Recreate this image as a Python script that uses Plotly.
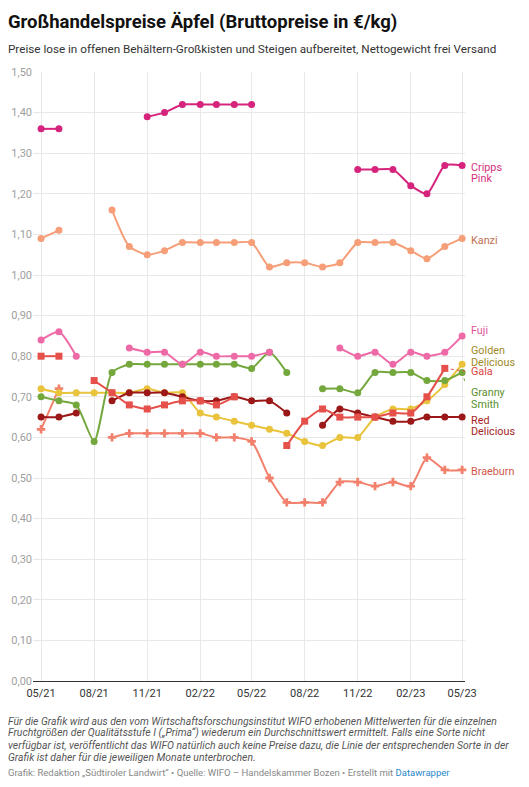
import plotly.graph_objects as go

# monthly observations 05/21 .. 05/23, None = variety not available that month
months = ["2021-05-01", "2021-06-01", "2021-07-01", "2021-08-01", "2021-09-01",
          "2021-10-01", "2021-11-01", "2021-12-01", "2022-01-01", "2022-02-01",
          "2022-03-01", "2022-04-01", "2022-05-01", "2022-06-01", "2022-07-01",
          "2022-08-01", "2022-09-01", "2022-10-01", "2022-11-01", "2022-12-01",
          "2023-01-01", "2023-02-01", "2023-03-01", "2023-04-01", "2023-05-01"]

cripps_pink = [1.36, 1.36, None, None, None, None, 1.39, 1.40, 1.42, 1.42, 1.42, 1.42, 1.42,
               None, None, None, None, None, 1.26, 1.26, 1.26, 1.22, 1.20, 1.27, 1.27]
kanzi = [1.09, 1.11, None, None, 1.16, 1.07, 1.05, 1.06, 1.08, 1.08, 1.08, 1.08, 1.08,
         1.02, 1.03, 1.03, 1.02, 1.03, 1.08, 1.08, 1.08, 1.06, 1.04, 1.07, 1.09]
fuji = [0.84, 0.86, 0.80, None, None, 0.82, 0.81, 0.81, 0.78, 0.81, 0.80, 0.80, 0.80,
        0.81, None, None, None, 0.82, 0.80, 0.81, 0.78, 0.81, 0.80, 0.81, 0.85]
golden_delicious = [0.72, 0.71, 0.71, 0.71, 0.71, 0.71, 0.72, 0.71, 0.71, 0.66, 0.65, 0.64, 0.63,
                    0.62, 0.61, 0.59, 0.58, 0.60, 0.60, 0.65, 0.67, 0.67, 0.69, 0.73, 0.78]
gala = [0.80, 0.80, None, 0.74, 0.71, 0.68, 0.67, 0.68, 0.69, 0.69, 0.68, 0.70, None,
        None, 0.58, 0.64, 0.67, 0.65, 0.65, 0.65, 0.66, 0.66, 0.70, 0.77, None]
granny_smith = [0.70, 0.69, 0.68, 0.59, 0.76, 0.78, 0.78, 0.78, 0.78, 0.78, 0.78, 0.78, 0.77,
                0.81, 0.76, None, 0.72, 0.72, 0.71, 0.76, 0.76, 0.76, 0.74, 0.74, 0.76]
red_delicious = [0.65, 0.65, 0.66, None, 0.69, 0.71, 0.71, 0.71, 0.70, 0.69, 0.69, 0.70, 0.69,
                 0.69, 0.66, None, 0.63, 0.67, 0.66, 0.65, 0.64, 0.64, 0.65, 0.65, 0.65]
braeburn = [0.62, 0.72, None, None, 0.60, 0.61, 0.61, 0.61, 0.61, 0.61, 0.60, 0.60, 0.59,
            0.50, 0.44, 0.44, 0.44, 0.49, 0.49, 0.48, 0.49, 0.48, 0.55, 0.52, 0.52]

tick_months = ["2021-05-01", "2021-08-01", "2021-11-01", "2022-02-01", "2022-05-01",
               "2022-08-01", "2022-11-01", "2023-02-01", "2023-05-01"]
tick_labels = ["05/21", "08/21", "11/21", "02/22", "05/22", "08/22", "11/22", "02/23", "05/23"]

# name lines, values, line colour, label colour, marker, label y (data units), connector
series = [
    (["Braeburn"], braeburn, "#f2806c", "#d0584a", "cross", 0.516, False),
    (["Kanzi"], kanzi, "#f59e78", "#c0704f", "circle", 1.086, False),
    (["Golden", "Delicious"], golden_delicious, "#e8c33b", "#a08a2a", "circle", 0.799, True),
    (["Granny", "Smith"], granny_smith, "#74a73c", "#5a8f2e", "circle", 0.696, True),
    (["Red", "Delicious"], red_delicious, "#9c1717", "#a52525", "circle", 0.628, False),
    (["Gala"], gala, "#e5504a", "#d9443c", "square", 0.762, True),
    (["Fuji"], fuji, "#ee6aa7", "#e0569a", "circle", 0.864, True),
    (["Cripps", "Pink"], cripps_pink, "#d6247d", "#d42f80", "circle", 1.251, False),
]

fig = go.Figure()
annotations = []
shapes = []
for lines, vals, col, lcol, sym, label_y, connector in series:
    fig.add_trace(go.Scatter(
        x=months, y=vals, mode="lines+markers", name=" ".join(lines),
        line=dict(color=col, width=2, shape="spline", smoothing=0.6),
        marker=dict(color=col, size=7, symbol=sym),
        cliponaxis=False, hoverinfo="skip",
    ))
    last_i = max(i for i, v in enumerate(vals) if v is not None)
    for k, txt in enumerate(lines):
        shift = (len(lines) - 1) / 2 * 11.7 - k * 11.7
        annotations.append(dict(
            x=months[-1], y=label_y, xref="x", yref="y", text=txt, showarrow=False,
            xanchor="left", yanchor="middle", align="left", xshift=7, yshift=shift,
            font=dict(color=lcol, size=10.8),
        ))
    if connector:
        shapes.append(dict(
            type="line", xref="x", yref="y", xsizemode="pixel", xanchor=months[last_i],
            x0=0, x1=(24 - last_i) * 17.5 + 8, y0=vals[last_i], y1=label_y,
            line=dict(color=col, width=1, dash="dot"),
        ))

W, H = 529, 787
L, R, T, B = 33, 64, 72, 106
plot_w = W - L - R
plot_h = H - T - B


def px(p):
    # pixel column -> paper x
    return (p - L) / plot_w


def py(p):
    # pixel row -> paper y
    return (H - B - p) / plot_h


note_lines = [
    "Für die Grafik wird aus den vom Wirtschaftsforschungsinstitut WIFO erhobenen Mittelwerten für die einzelnen",
    "Fruchtgrößen der Qualitätsstufe I („Prima“) wiederum ein Durchschnittswert ermittelt. Falls eine Sorte nicht",
    "verfügbar ist, veröffentlicht das WIFO natürlich auch keine Preise dazu, die Linie der entsprechenden Sorte in der",
    "Grafik ist daher für die jeweiligen Monate unterbrochen.",
]

annotations += [
    dict(x=px(6), y=py(22), xref="paper", yref="paper", xanchor="left",
         yanchor="middle", showarrow=False, align="left",
         text="<b>Großhandelspreise Äpfel (Bruttopreise in €/kg)</b>",
         font=dict(size=18.5, color="#111")),
    dict(x=px(6), y=py(49), xref="paper", yref="paper", xanchor="left",
         yanchor="middle", showarrow=False, align="left",
         text="Preise lose in offenen Behältern-Großkisten und Steigen aufbereitet, Nettogewicht frei Versand",
         font=dict(size=11.7, color="#333")),
    dict(x=px(6), y=py(772), xref="paper", yref="paper", xanchor="left",
         yanchor="middle", showarrow=False, align="left",
         text="Grafik: Redaktion „Südtiroler Landwirt“ • Quelle: WIFO – Handelskammer Bozen • Erstellt mit "
              "<span style='color:#2a87c8'>Datawrapper</span>",
         font=dict(size=9.5, color="#888")),
]
for k, txt in enumerate(note_lines):
    annotations.append(dict(
        x=px(6), y=py(721 + k * 12), xref="paper", yref="paper", xanchor="left",
        yanchor="middle", showarrow=False, align="left", text="<i>" + txt + "</i>",
        font=dict(size=10.4, color="#555"),
    ))

fig.update_layout(
    width=W, height=H,
    margin=dict(l=L, r=R, t=T, b=B),
    paper_bgcolor="white", plot_bgcolor="white",
    font=dict(family="Roboto", size=11, color="#333"),
    separators=",.",
    showlegend=False,
    annotations=annotations,
    shapes=shapes,
)
fig.update_xaxes(
    type="date", range=["2021-04-17", "2023-05-06"],
    tickvals=tick_months, ticktext=tick_labels,
    showgrid=True, gridcolor="#e8e8e8", gridwidth=1,
    showline=False, zeroline=False, ticks="", ticklabelstandoff=4,
    tickfont=dict(size=11, color="#333"),
)
fig.update_yaxes(
    range=[0, 1.5], dtick=0.1, tickformat=".2f",
    showgrid=True, gridcolor="#e8e8e8", gridwidth=1,
    zeroline=True, zerolinecolor="#333", zerolinewidth=1.2,
    ticks="", tickfont=dict(size=11, color="#a0a0a0"),
)

fig.write_html("out.html", config={"displayModeBar": False},
               post_script="document.body.style.margin='0';")
